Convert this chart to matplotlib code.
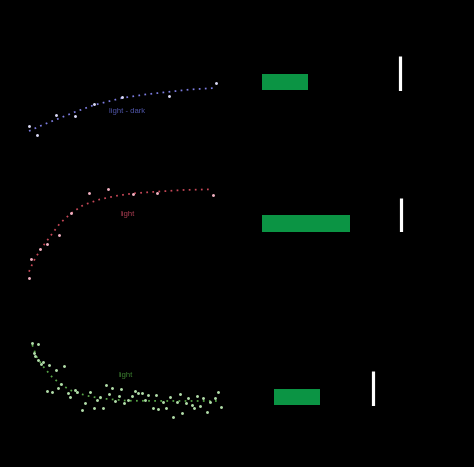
import matplotlib
matplotlib.use("Agg")
import matplotlib.pyplot as plt

# row 1: light - dark
x1 = [4.5, 8.4, 17.6, 26.8, 36.1, 49.6, 72.7, 95.5]
y1 = [22.0, 7.7, 38.5, 36.9, 55.4, 65.7, 67.7, 87.2]
fx1 = [4.4, 9.8, 14.6, 19.5, 26.8, 36.1, 43.9, 49.8, 61.0, 71.7, 82.9, 95.1]
fy1 = [13.8, 21.5, 27.7, 33.8, 43.1, 53.8, 60.0, 64.6, 70.0, 73.8, 77.7, 80.0]

# row 2: light
x2 = [4.4, 5.4, 9.8, 13.0, 18.9, 24.9, 33.8, 43.1, 55.0, 67.0, 94.0]
y2 = [7.0, 24.5, 34.0, 39.0, 47.3, 68.3, 87.9, 91.1, 86.7, 87.3, 85.7]
fx2 = [4.4, 6.5, 9.8, 14.6, 19.5, 24.9, 30.9, 39.0, 47.2, 55.3, 66.7, 79.7, 92.7]
fy2 = [12.7, 22.2, 33.3, 46.0, 58.8, 68.3, 76.2, 81.6, 85.0, 87.3, 88.9, 90.5, 91.1]

# row 3: light
x3 = [6.0, 8.6, 7.0, 7.3, 8.8, 11.4, 10.1, 14.3, 17.4, 21.6, 13.0, 15.8, 20.0, 18.7,
      23.3, 24.4, 26.8, 28.0, 30.4, 31.7, 34.1, 36.1, 37.4, 39.0, 40.3, 42.0, 43.3,
      44.7, 46.3, 48.3, 49.1, 50.9, 52.8, 54.5, 56.1, 57.7, 59.4, 61.0, 62.6, 64.7,
      66.2, 67.5, 69.9, 71.2, 73.2, 74.8, 76.4, 78.0, 79.2, 80.8, 82.1, 83.8, 85.0,
      86.5, 87.8, 89.4, 91.1, 92.7, 95.1, 96.7, 97.9]
y3 = [90.8, 90.0, 79.7, 76.7, 72.2, 70.3, 67.4, 66.7, 61.1, 65.9, 37.8, 37.0, 45.2, 40.8,
      35.9, 31.4, 38.9, 36.7, 16.7, 24.8, 37.0, 19.2, 27.8, 31.4, 19.2, 44.4, 34.4,
      40.8, 26.7, 32.2, 39.7, 24.8, 27.8, 32.2, 37.8, 35.2, 35.9, 27.8, 33.3, 18.6,
      33.3, 17.4, 25.9, 18.6, 31.4, 8.6, 25.9, 34.4, 13.0, 24.8, 29.7, 22.2, 18.6,
      32.6, 21.1, 29.7, 14.8, 25.9, 29.7, 36.3, 19.7]
fx3 = [6.0, 8.1, 11.4, 15.5, 20.3, 26.0, 32.5, 39.0, 52.0, 71.6, 97.6]
fy3 = [88.9, 75.9, 64.8, 53.7, 44.4, 37.0, 32.6, 29.7, 27.0, 26.7, 26.7]

labels = ["light - dark", "light", "light"]
label_x = [52.0, 52.5, 51.7]
label_y = [43.5, 67.6, 54.8]

# right side bars and markers
bar_left = [12.0, 12.3, 24.0]
bar_width = [45.7, 87.4, 45.7]
marker_x = [150.3, 151.3, 122.7]

W, H = 474, 467
fig = plt.figure(figsize=(W / 100, H / 100), dpi=100)
fig.patch.set_facecolor("black")

rows = [
    (x1, y1, fx1, fy1, 75, 140, "#d8d8f5", "#7c7ce0", "#4f55a8"),
    (x2, y2, fx2, fy2, 180, 285, "#f0b0c0", "#c84858", "#a83c50"),
    (x3, y3, fx3, fy3, 335, 425, "#b0dca8", "#58a848", "#3c8030"),
]
for i, (xs, ys, fxs, fys, top, bot, pc, lc, tc) in enumerate(rows):
    ax = fig.add_axes([20 / W, 1 - bot / H, 205 / W, (bot - top) / H])
    ax.set_facecolor("black")
    ax.plot(fxs, fys, linestyle=(0, (1, 2.5)), color=lc, linewidth=1.25)
    ax.plot(xs, ys, "o", color=pc, markersize=2.1, markeredgewidth=0)
    ax.text(label_x[i], label_y[i], labels[i], color=tc, fontsize=5.5,
            family="Liberation Sans", ha="center", va="center")
    ax.set_xlim(0, 100)
    ax.set_ylim(0, 100)
    ax.axis("off")

bar_bottoms = [90.7, 232.3, 405.7]
for i in range(3):
    b = bar_bottoms[i]
    ax = fig.add_axes([250 / W, 1 - b / H, 170 / W, 34.4 / H])
    ax.set_facecolor("black")
    ax.barh(0.5, bar_width[i], left=bar_left[i], height=0.97, color="#0b9444")
    ax.vlines(marker_x[i], 0, 2, color="white", linewidth=2.3)
    ax.set_xlim(0, 170)
    ax.set_ylim(0, 2)
    ax.axis("off")

fig.savefig("out.png", dpi=100, facecolor="black")
